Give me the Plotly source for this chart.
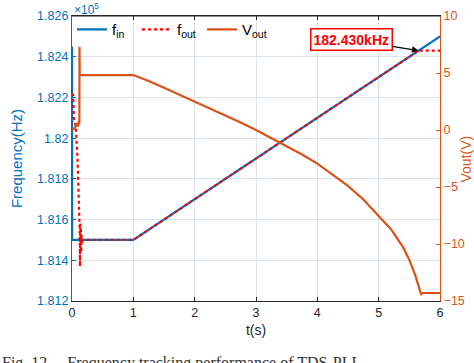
import plotly.graph_objects as go

# ---- data ----
t_in = [0.0, 0.002, 1.0, 6.0]
f_in = [1.8245, 1.8150, 1.8150, 1.8250]          # x10^5 Hz

t_out = [0.0, 0.02, 0.03, 0.06, 0.09, 0.11, 0.125, 0.13, 0.135, 0.14, 0.145,
         0.15, 0.155, 0.16, 0.17, 1.0, 5.65, 6.0]
f_out = [1.8222, 1.8221, 1.8210, 1.8206, 1.8190, 1.8172, 1.8155, 1.8137, 1.8158,
         1.8140, 1.8156, 1.8144, 1.8153, 1.8148, 1.8150, 1.8150, 1.8243, 1.8243]

t_v = [0.0, 0.05, 0.08, 0.1, 0.11, 0.12, 0.122, 0.124, 0.126, 1.0, 1.25, 1.5, 1.75,
       2.0, 2.25, 2.5, 2.75, 3.0, 3.25, 3.5, 3.75, 4.0, 4.25, 4.5, 4.75, 5.0,
       5.2, 5.4, 5.5, 5.6, 5.69, 5.72, 6.0]
v_out = [0.0, 0.2, 0.6, 0.3, 0.8, 0.5, 7.3, 7.3, 4.82, 4.82, 4.3, 3.7, 3.1,
         2.5, 1.9, 1.25, 0.65, 0.0, -0.7, -1.45, -2.15, -2.95, -3.9, -4.9, -6.1, -7.5,
         -8.7, -10.3, -11.4, -12.8, -14.4, -14.3, -14.3]

x_ticks = [0, 1, 2, 3, 4, 5, 6]
left_ticks = [1.812, 1.814, 1.816, 1.818, 1.820, 1.822, 1.824, 1.826]
left_labels = ["1.812", "1.814", "1.816", "1.818", "1.82", "1.822", "1.824", "1.826"]
right_ticks = [-15, -10, -5, 0, 5, 10]
marker_t, marker_f = 5.65, 1.8243

BLUE = "#0072BD"
RED = "#FF0000"
ORANGE = "#D95319"
GRID = "#DDE3EA"

fig = go.Figure()
fig.add_trace(go.Scatter(x=t_in, y=f_in, mode="lines", name="f<sub>in</sub>",
                         line=dict(color=BLUE, width=2.2)))
fig.add_trace(go.Scatter(x=t_out, y=f_out, mode="lines", name="f<sub>out</sub>",
                         line=dict(color=RED, width=2.2, dash="dot")))
fig.add_trace(go.Scatter(x=t_v, y=v_out, mode="lines", name="V<sub>out</sub>",
                         line=dict(color=ORANGE, width=2.2), yaxis="y2"))

W, H = 474, 363
ML, MR, MT, MB = 72, 34, 16, 62
PW, PH = W - ML - MR, H - MT - MB

fig.update_layout(
    width=W, height=H,
    margin=dict(l=ML, r=MR, t=MT, b=MB, autoexpand=False),
    paper_bgcolor="white", plot_bgcolor="white",
    font=dict(family="Liberation Sans, Arial, sans-serif", size=12.5, color="#262626"),
    showlegend=True,
    legend=dict(orientation="h", x=0.0, y=1.01, xanchor="left", yanchor="top",
                bgcolor="rgba(0,0,0,0)", borderwidth=0,
                font=dict(size=15, color="black"),
                entrywidth=20, itemwidth=30, tracegroupgap=0),
    xaxis=dict(range=[0, 6], tickvals=x_ticks, showgrid=True, gridcolor=GRID,
               zeroline=False, showline=True, linecolor="#262626", linewidth=1.2,
               mirror="ticks", ticks="inside", ticklen=4, tickcolor="#262626",
               tickfont=dict(size=12.5, color="#262626"),
               title=dict(text="t(s)", font=dict(size=14, color="#262626"), standoff=6)),
    yaxis=dict(range=[1.812, 1.826], tickvals=left_ticks, ticktext=left_labels,
               showgrid=True, gridcolor=GRID, zeroline=False,
               showline=True, linecolor=BLUE, linewidth=1.2, ticks="inside",
               ticklen=4, tickcolor=BLUE, tickfont=dict(size=12.5, color=BLUE),
               title=dict(text="Frequency(Hz)", font=dict(size=15, color=BLUE), standoff=10)),
    yaxis2=dict(range=[-15, 10], tickvals=right_ticks, overlaying="y", side="right",
                showgrid=False, zeroline=False, showline=True, linecolor=ORANGE,
                linewidth=1.2, ticks="inside", ticklen=4, tickcolor=ORANGE,
                tickfont=dict(size=12.5, color=ORANGE)),
)

# right axis title placed explicitly
fig.add_annotation(xref="paper", yref="paper", x=1 + (465 - 440) / PW, y=0.5,
                   xanchor="center", yanchor="middle", textangle=-90, showarrow=False,
                   text="Vout(V)", font=dict(size=14, color=ORANGE))

# top border line
fig.add_shape(type="line", xref="paper", yref="paper", x0=0, x1=1, y0=1, y1=1,
              line=dict(color="#262626", width=1.2))

# x10^5 exponent
fig.add_annotation(xref="paper", yref="paper", x=0.0, y=1.0, xanchor="left", yanchor="bottom",
                   text="×10<sup>5</sup>", showarrow=False, yshift=-3,
                   font=dict(size=12, color=BLUE))

# marker annotation
fig.add_annotation(x=marker_t, y=marker_f, xref="x", yref="y",
                   text="<b>182.430kHz</b>", showarrow=True, arrowhead=2, arrowsize=1,
                   arrowwidth=1.3, arrowcolor="black", ax=-67, ay=-11,
                   font=dict(size=14, color=RED), bgcolor="white",
                   bordercolor=RED, borderwidth=1.5, borderpad=2)

# caption (cut at the bottom)
fig.add_annotation(xref="paper", yref="paper", x=-ML / PW, y=-(363 - 301) / PH,
                   xanchor="left", yanchor="middle", showarrow=False,
                   text="Fig. 12.    Frequency tracking performance of TDS-PLL",
                   font=dict(family="Liberation Serif, Times New Roman, serif", size=16, color="#333333"))

fig.write_html("out.html", config={"displayModeBar": False},
               post_script="document.body.style.margin='0px';document.body.style.overflow='hidden';")
